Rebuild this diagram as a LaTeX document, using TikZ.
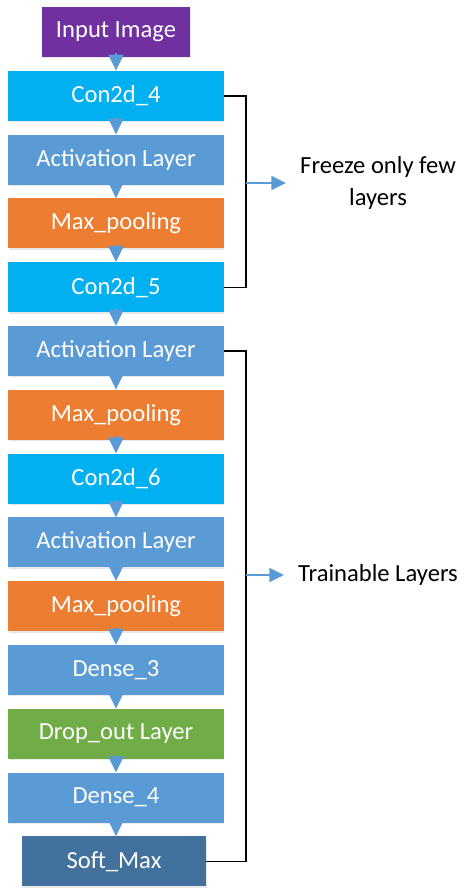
\documentclass[tikz,border=0pt]{standalone}
\usepackage{fontspec}
\setmainfont{Carlito}
\usetikzlibrary{arrows.meta,positioning,shadows}
\definecolor{InPurple}{RGB}{112,48,160}
\definecolor{ConvCyan}{RGB}{0,176,240}
\definecolor{ActBlue}{RGB}{91,155,213}
\definecolor{PoolOrange}{RGB}{237,125,49}
\definecolor{DropGreen}{RGB}{112,173,71}
\definecolor{SoftNavy}{RGB}{65,113,156}

\begin{document}
\begin{tikzpicture}[
    node distance=0.4cm,
    layer/.style={minimum width=6.45cm, minimum height=1.5cm, inner sep=0pt, text=white,
        font=\fontsize{21}{27}\selectfont,
        drop shadow={shadow xshift=0.6pt, shadow yshift=-1.2pt, opacity=0.18}},
    flow/.style={-{Triangle[width=0.46cm,length=0.48cm]}, ActBlue, line width=1pt},
    brace/.style={draw, black, line width=1.2pt},
    side/.style={-{Triangle[width=0.42cm,length=0.44cm]}, ActBlue, line width=1.3pt, shorten >=0.42cm},
    note/.style={anchor=west, inner sep=0pt, align=center, font=\fontsize{21}{27.3}\selectfont}
]
    \useasboundingbox (0,0) rectangle (14.22,-26.85);

    % layer stack
    \node[layer, fill=InPurple, minimum width=4.44cm] (input) at (3.48,-0.96) {Input Image};
    \node[layer, fill=ConvCyan, below=of input] (conva) {Con2d\_4};
    \node[layer, fill=ActBlue, below=of conva] (acta) {Activation Layer};
    \node[layer, fill=PoolOrange, below=of acta] (poola) {Max\_pooling};
    \node[layer, fill=ConvCyan, below=of poola] (convb) {Con2d\_5};
    \node[layer, fill=ActBlue, below=of convb] (actb) {Activation Layer};
    \node[layer, fill=PoolOrange, below=of actb] (poolb) {Max\_pooling};
    \node[layer, fill=ConvCyan, below=of poolb] (convc) {Con2d\_6};
    \node[layer, fill=ActBlue, below=of convc] (actc) {Activation Layer};
    \node[layer, fill=PoolOrange, below=of actc] (poolc) {Max\_pooling};
    \node[layer, fill=ActBlue, below=of poolc] (densea) {Dense\_3};
    \node[layer, fill=DropGreen, below=of densea] (drop) {Drop\_out Layer};
    \node[layer, fill=ActBlue, below=of drop] (denseb) {Dense\_4};
    \node[layer, fill=SoftNavy, minimum width=5.52cm, below=of denseb, xshift=-0.06cm] (soft) {Soft\_Max};

    \foreach \a/\b in {input/conva, conva/acta, acta/poola, poola/convb, convb/actb, actb/poolb,
        poolb/convc, convc/actc, actc/poolc, poolc/densea, densea/drop, drop/denseb, denseb/soft}
        \draw[flow] ([yshift=0.12cm]\a.south) -- (\a.south |- \b.north);

    % groups
    \coordinate (fzk) at (7.38,-5.49);
    \coordinate (trk) at (7.38,-17.25);
    \draw[brace] (conva.east) -| (fzk) |- (convb.east);
    \draw[brace] (actb.east) -| (trk) |- (soft.east);

    \node[note] (freeze) at (9.0,-5.49) {Freeze only few\\layers};
    \node[note] (train) at (8.94,-17.25) {Trainable Layers};
    \draw[side] (fzk) -- (freeze.west);
    \draw[side] (trk) -- (train.west);
\end{tikzpicture}
\end{document}
